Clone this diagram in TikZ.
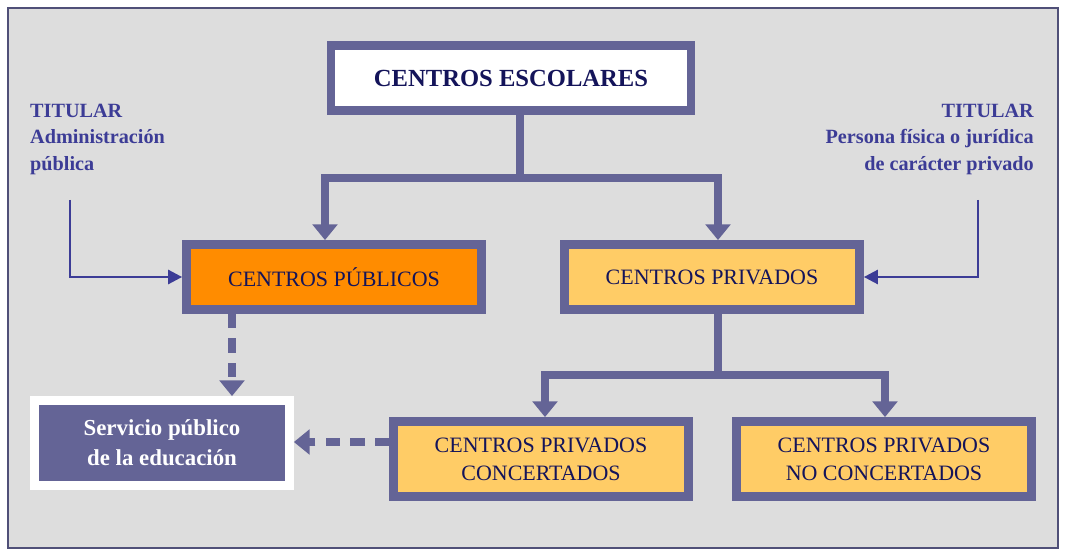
\documentclass[tikz,border=0pt]{standalone}
\usepackage{fontspec}
\setmainfont{Liberation Serif}
\usetikzlibrary{arrows.meta}
\definecolor{fondo}{RGB}{221,221,221}
\definecolor{lila}{RGB}{100,100,150}
\definecolor{marino}{RGB}{20,20,90}
\definecolor{azul}{RGB}{60,60,150}
\definecolor{naranja}{RGB}{255,140,0}
\definecolor{crema}{RGB}{255,204,102}

\tikzset{
  caja/.style={draw=lila,line width=5pt,minimum width=5.9cm,minimum height=1.3cm,align=center,text=marino,font=\fontsize{12.5}{16}\selectfont},
  flecha/.style={draw=lila,line width=4pt,-{Triangle[length=9pt,width=14pt]}},
  linea/.style={draw=lila,line width=4pt},
  fina/.style={draw=azul,line width=1.5pt,-{Triangle[length=8pt,width=8pt]}},
  titular/.style={text=azul,font=\bfseries\fontsize{11.5}{15}\selectfont}
}

\begin{document}
\begin{tikzpicture}[x=0.02cm,y=-0.02cm]
\useasboundingbox (0,0) rectangle (1065,557);
%
% marco
\draw[draw=lila!80!black,fill=fondo,line width=1.5pt](8,8) rectangle (1058,548);
%
% nodos
\node[caja,fill=white,minimum width=7.2cm,minimum height=1.3cm,font=\bfseries\fontsize{14}{17}\selectfont] (escolares) at (511,78) {CENTROS ESCOLARES};
\node[caja,fill=naranja] (publicos) at (334,277) {CENTROS PÚBLICOS};
\node[caja,fill=crema] (privados) at (712,277) {CENTROS PRIVADOS};
\node[caja,fill=crema,minimum height=1.5cm] (concertados) at (541,459) {CENTROS PRIVADOS\\CONCERTADOS};
\node[caja,fill=crema,minimum height=1.5cm] (noconc) at (884,459) {CENTROS PRIVADOS\\NO CONCERTADOS};
\node[draw=white,fill=lila,line width=5pt,minimum width=5.1cm,minimum height=1.7cm,align=center,text=white,font=\bfseries\fontsize{13}{17}\selectfont] (servicio) at (162,443) {Servicio público\\de la educación};
%
% titulares
\node[titular,anchor=north west,align=left] (tizq) at (24,98) {TITULAR\\Administración\\pública};
\node[titular,anchor=north east,align=right] (tder) at (1040,98) {TITULAR\\Persona física o jurídica\\de carácter privado};
%
% conectores
\coordinate (c1) at (520,178);
\coordinate (c2) at (718,375);
\draw[linea] (escolares.south -| c1) -- (c1);
\draw[flecha] (c1) -| (publicos.north -| 325,0);
\draw[flecha] (c1) -| (privados.north -| 718,0);
\draw[linea] (privados.south -| c2) -- (c2);
\draw[flecha] (c2) -| (concertados.north -| 545,0);
\draw[flecha] (c2) -| (noconc.north -| 885,0);
\draw[flecha,dash pattern=on 8pt off 6pt] (publicos.south -| 232,0) -- (servicio.north -| 232,0);
\draw[flecha,dash pattern=on 8pt off 6pt] (concertados.west |- 0,442) -- (servicio.east |- 0,442);
\draw[fina] (70,200) |- (publicos.west);
\draw[fina] (978,200) |- (privados.east);
\end{tikzpicture}
\end{document}
